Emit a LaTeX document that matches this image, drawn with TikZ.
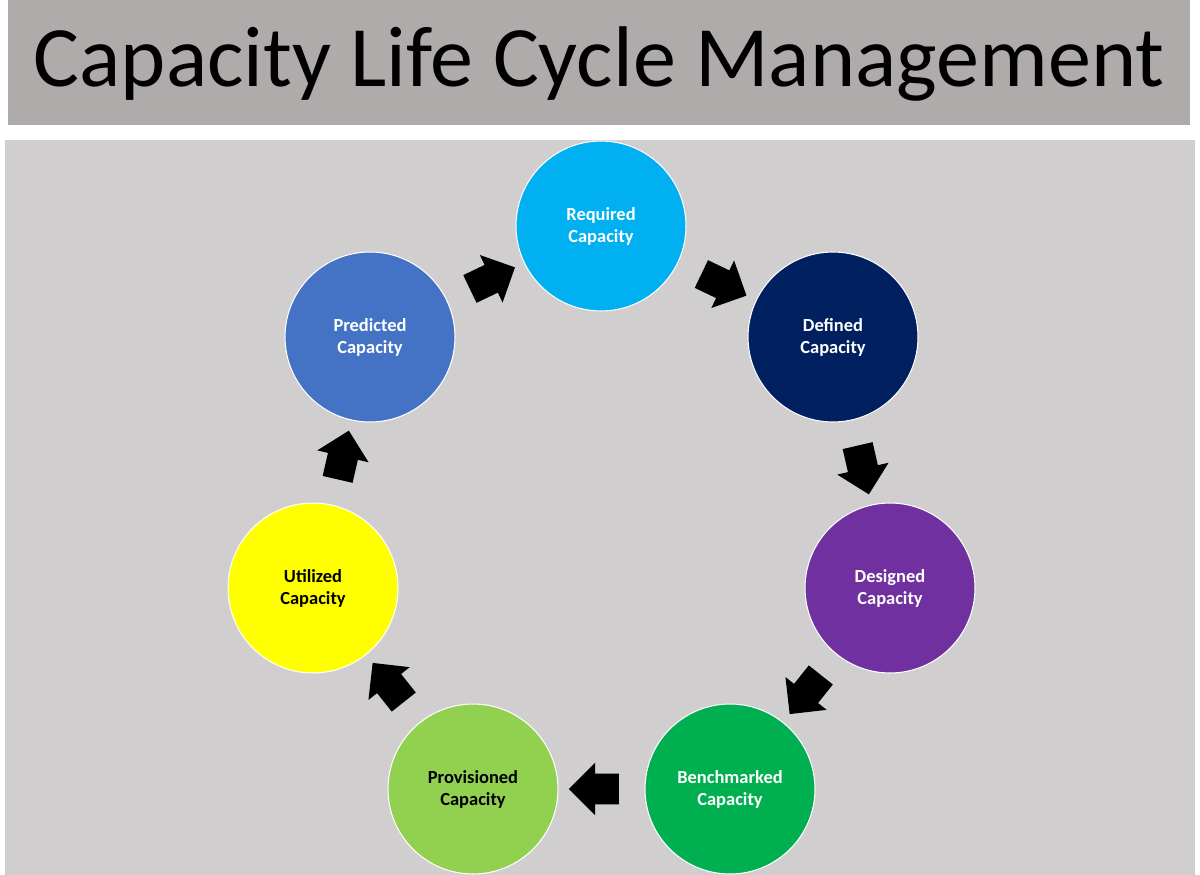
\documentclass[tikz,border=0pt]{standalone}
\usepackage{fontspec}
\setmainfont{Carlito}
\usetikzlibrary{shapes.arrows,calc}
\definecolor{bandgray}{HTML}{AFABAB}
\definecolor{panelgray}{HTML}{D0CECE}
\definecolor{reqblue}{HTML}{00B0F0}
\definecolor{defnavy}{HTML}{002060}
\definecolor{despurple}{HTML}{7030A0}
\definecolor{benchgreen}{HTML}{00B050}
\definecolor{provgreen}{HTML}{92D050}
\definecolor{utilyellow}{HTML}{FFFF00}
\definecolor{predblue}{HTML}{4472C4}
\tikzset{
  stage/.style={circle, draw=white, line width=0.6pt, minimum size=3.4cm,
    align=center, font=\fontsize{10.5}{12.5}\selectfont\bfseries, text=white},
  flowarrow/.style={single arrow, fill=black, minimum height=1.0cm,
    inner sep=0.3cm, single arrow head extend=0.22cm, single arrow head indent=0pt}
}
\begin{document}
\begin{tikzpicture}[x=0.02cm, y=-0.02cm]
		\useasboundingbox (0,0) rectangle (1200,875);
		\fill[white] (0,0) rectangle (1200,875);
		%title band and panel
		\fill[bandgray] (8,0) rectangle (1190,125);
		\node (title) at (599,64) {\fontsize{49}{56}\selectfont Capacity Life Cycle Management};
		\fill[panelgray] (5,140) rectangle (1195,875);
		
		%stages
		\node[stage, fill=reqblue] (req) at (601,226) {Required\\Capacity};
		\node[stage, fill=defnavy] (def) at (833,337) {Defined\\Capacity};
		\node[stage, fill=despurple] (des) at (890,588) {Designed\\Capacity};
		\node[stage, fill=benchgreen] (bench) at (730,789) {Benchmarked\\Capacity};
		\node[stage, fill=provgreen, text=black] (prov) at (473,789) {Provisioned\\Capacity};
		\node[stage, fill=utilyellow, text=black] (util) at (313,588) {Utilized\\Capacity};
		\node[stage, fill=predblue] (pred) at (370,337) {Predicted\\Capacity};
		
		%arrows between stages
		\foreach \a/\b/\ang in {req/def/-25.6, def/des/-77, des/bench/-128.5, bench/prov/180,
		                      prov/util/128.5, util/pred/77, pred/req/25.6}{
			\node[flowarrow, rotate=\ang] (\a-\b) at ($(\a)!0.5!(\b)$) {};
		}
\end{tikzpicture}
\end{document}
